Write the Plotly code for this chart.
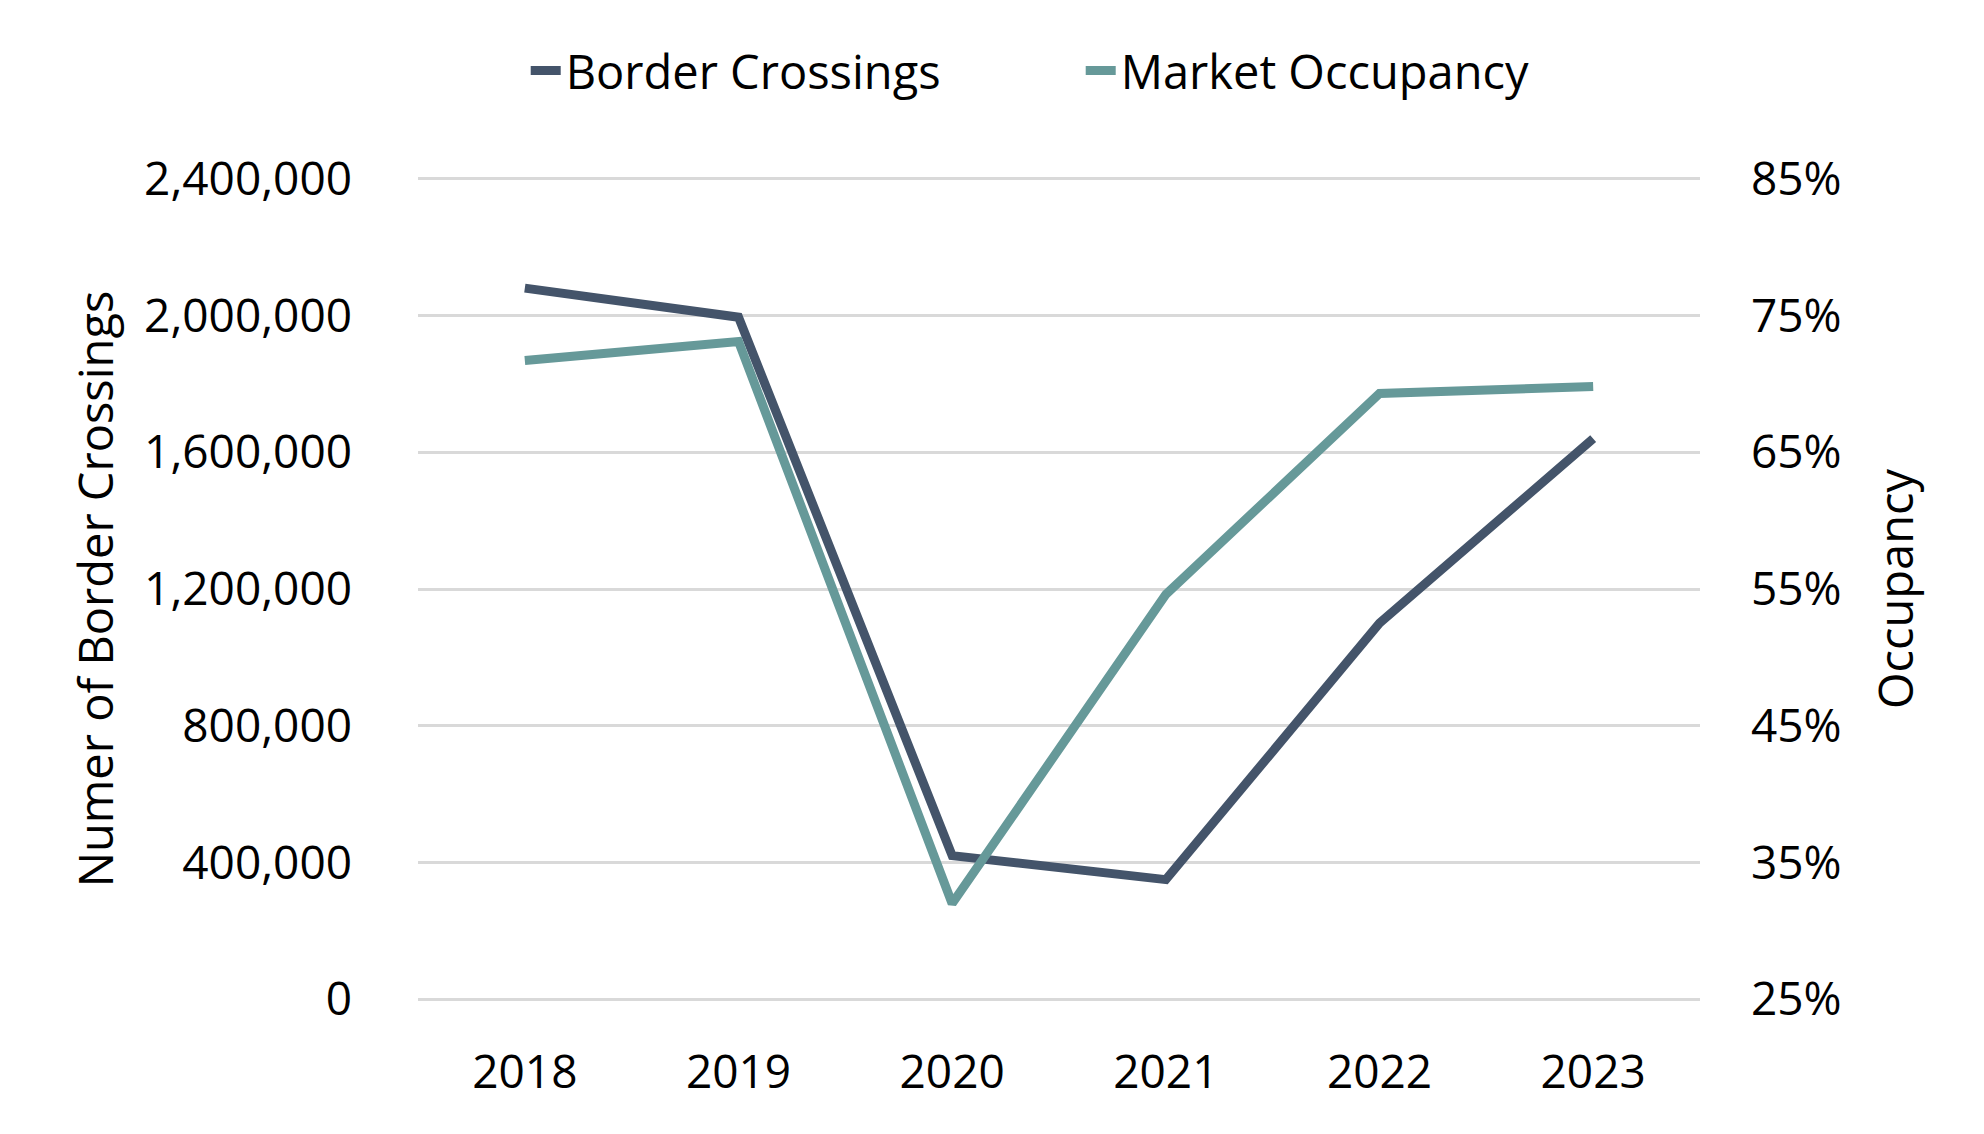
import plotly.graph_objects as go

# values
years = ["2018", "2019", "2020", "2021", "2022", "2023"]
border_crossings = [2080000, 1995000, 420000, 350000, 1100000, 1640000]
occupancy = [0.717, 0.731, 0.32, 0.546, 0.693, 0.698]

font_name = "Open Sans"
dark = "#44546A"
teal = "#669999"
grid = "#D9D9D9"

fig = go.Figure()

fig.add_trace(go.Scatter(x=years, y=border_crossings, name="Border Crossings",
                         mode="lines", line=dict(color=dark, width=9)))
fig.add_trace(go.Scatter(x=years, y=occupancy, name="Market Occupancy",
                         mode="lines", line=dict(color=teal, width=9), yaxis="y2"))

# pad the ranges a little so the top/bottom gridlines get drawn
pad = 5000
fig.update_layout(
    width=1976, height=1126,
    paper_bgcolor="white", plot_bgcolor="white",
    font=dict(family=font_name, size=46, color="black"),
    margin=dict(l=410, r=284, t=169, b=133),
    showlegend=True,
    legend=dict(orientation="h", x=0.262, xanchor="left", xref="container",
                y=0.944, yanchor="middle", yref="container",
                font=dict(size=47), entrywidth=510),
    xaxis=dict(type="category", range=[-0.5, 5.5], showgrid=False,
               showline=False, ticks="", ticklabelstandoff=40),
    yaxis=dict(range=[-pad, 2400000 + pad], tick0=0, dtick=400000, tickformat=",",
               showgrid=True, gridcolor=grid, gridwidth=3,
               zeroline=True, zerolinecolor=grid, zerolinewidth=3,
               showline=False, ticklabelstandoff=65,
               title=dict(text="Numer of Border Crossings", standoff=15,
                          font=dict(size=47))),
    yaxis2=dict(range=[0.25 - pad / 4e6, 0.85 + pad / 4e6], tick0=0.25, dtick=0.1,
                tickformat=".0%", overlaying="y", side="right", showgrid=False,
                zeroline=False, showline=False, ticklabelstandoff=50,
                title=dict(text="Occupancy", standoff=39, font=dict(size=47))),
)

fig.write_html("out.html")
